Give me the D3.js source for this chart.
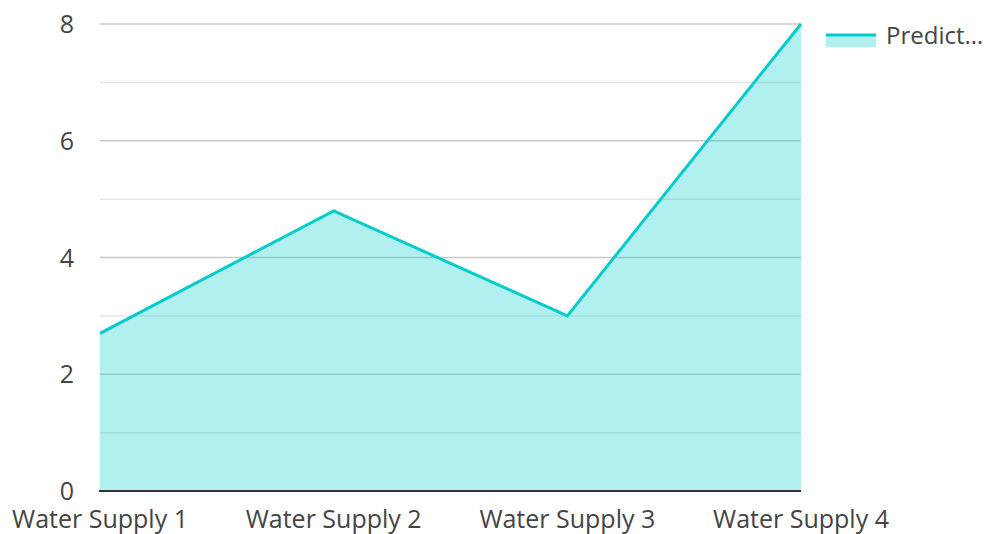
<!DOCTYPE html>
<html><head><meta charset="utf-8">
<script src="https://cdn.jsdelivr.net/npm/d3@7"></script>
<style>body{margin:0;background:#fff}svg{display:block}text{font-family:"Open Sans",sans-serif;fill:#444}</style>
</head><body>
<svg id="c" width="988" height="534"></svg>
<script>
const categories = ["Water Supply 1","Water Supply 2","Water Supply 3","Water Supply 4"];
const predictions = [2.7, 4.8, 3.0, 8.0];
const yTicks = [0,2,4,6,8];
const minorTicks = [1,3,5,7];
const seriesName = "Predict\u2026";

const svg = d3.select("#c");
const m = {l:100, r:801, t:24, b:491};
const x = d3.scalePoint().domain(categories).range([m.l, m.r]);
const y = d3.scaleLinear().domain([0,8]).range([m.b, m.t]);
const color = "#00cccc";

// gridlines
svg.append("g").selectAll("line").data(minorTicks).join("line")
  .attr("x1", m.l).attr("x2", m.r).attr("y1", d=>y(d)).attr("y2", d=>y(d))
  .attr("stroke", "#e6e6e6").attr("stroke-width", 1.5);
svg.append("g").selectAll("line").data(yTicks.filter(d=>d>0)).join("line")
  .attr("x1", m.l).attr("x2", m.r).attr("y1", d=>y(d)).attr("y2", d=>y(d))
  .attr("stroke", "#c8c8c8").attr("stroke-width", 1.5);

const data = categories.map((c,i)=>({c, v:predictions[i]}));
svg.append("path").datum(data)
  .attr("d", d3.area().x(d=>x(d.c)).y0(y(0)).y1(d=>y(d.v)))
  .attr("fill", color).attr("fill-opacity", 0.3);
svg.append("path").datum(data)
  .attr("d", d3.line().x(d=>x(d.c)).y(d=>y(d.v)))
  .attr("fill", "none").attr("stroke", color).attr("stroke-width", 3).attr("stroke-linejoin","miter");

// baseline
svg.append("line").attr("x1", m.l-1).attr("x2", m.r).attr("y1", y(0)).attr("y2", y(0))
  .attr("stroke", "#333").attr("stroke-width", 2);

// y labels
svg.append("g").selectAll("text").data(yTicks).join("text")
  .attr("x", 74).attr("y", d=>y(d)+9).attr("text-anchor","end")
  .attr("font-size", 25).text(d=>d);

// x labels
svg.append("g").selectAll("text").data(categories).join("text")
  .attr("x", d=>x(d)).attr("y", 528).attr("text-anchor","middle")
  .attr("font-size", 25).text(d=>d);

// legend
const lg = svg.append("g");
lg.append("rect").attr("x", 826).attr("y", 36).attr("width", 50).attr("height", 11)
  .attr("fill", color).attr("fill-opacity", 0.3);
lg.append("line").attr("x1", 826).attr("x2", 876).attr("y1", 35).attr("y2", 35)
  .attr("stroke", color).attr("stroke-width", 3);
lg.append("text").attr("x", 886).attr("y", 44).attr("font-size", 24).text(seriesName);
</script>
</body></html>
